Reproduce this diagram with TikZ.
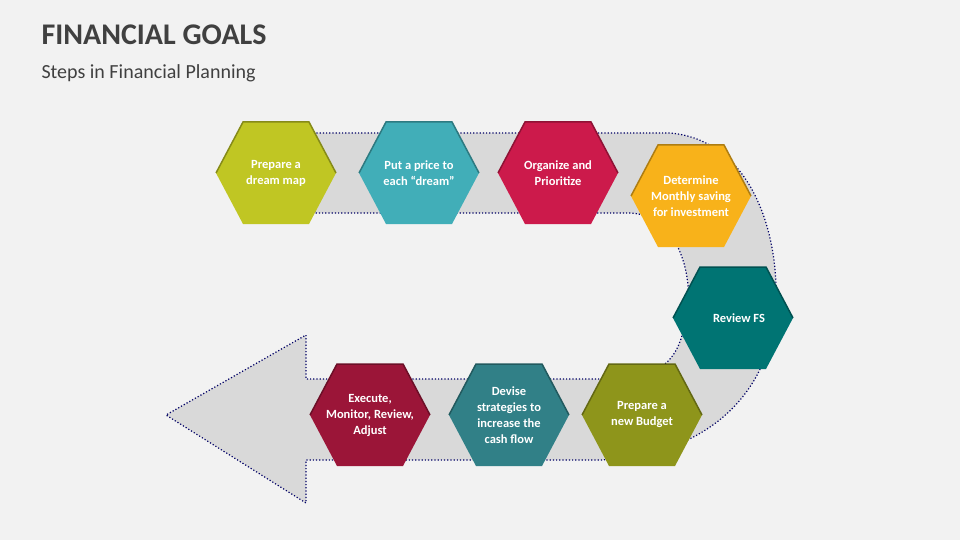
\documentclass[tikz,border=0pt]{standalone}
\usepackage{fontspec}
\setmainfont{Carlito}
\begin{document}
\begin{tikzpicture}[x=1pt,y=-1pt,
  lbl/.style={text=white,font=\bfseries\fontsize{12.5}{16}\selectfont,align=center},
  band/.style={fill=black!15,draw=blue!40!black,dotted,line width=1.2pt}]
\fill[black!5] (0,0) rectangle (960,540);
\useasboundingbox (0,0) rectangle (960,540);
\node[anchor=west,text=black!75,font=\bfseries\fontsize{30}{34}\selectfont] (title) at (38,35) {FINANCIAL GOALS};
\node[anchor=west,text=black!75,font=\fontsize{20}{24}\selectfont] (sub) at (38,73) {Steps in Financial Planning};
\draw[band] (306,335) -- (306,379) -- (620,379)
  .. controls (675,375) and (680,345) .. (686,320)
  .. controls (695,280) and (680,215) .. (630,213)
  -- (315,213) -- (315,133) -- (670,133)
  .. controls (750,140) and (778,230) .. (776,300)
  .. controls (775,380) and (720,455) .. (600,460)
  -- (306,460) -- (306,503) -- (166,415) -- cycle;
\newcommand\hexa[5]{%
  \fill[#4] (#2-60,#3) -- (#2-33,#3-51) -- (#2+33,#3-51) -- (#2+60,#3) -- (#2+33,#3+51) -- (#2-33,#3+51) -- cycle;
  \draw[#4!70!black,line width=1.5pt] (#2-60,#3) -- (#2-33,#3-51) -- (#2+33,#3-51) -- (#2+60,#3);
  \node[lbl] (#1) at (#2,#3) {#5};}
\definecolor{c1}{HTML}{C0C623}\definecolor{c2}{HTML}{41AEB8}
\definecolor{c3}{HTML}{CC1A4B}\definecolor{c4}{HTML}{F8B21A}
\definecolor{c5}{HTML}{007473}\definecolor{c6}{HTML}{8E951B}
\definecolor{c7}{HTML}{318087}\definecolor{c8}{HTML}{9B1538}
\hexa{h1}{276}{173}{c1}{Prepare a\\dream map}
\hexa{h2}{419}{173}{c2}{Put a price to\\each “dream”}
\hexa{h3}{558}{173}{c3}{Organize and\\Prioritize}
\hexa{h4}{691}{196}{c4}{Determine\\Monthly saving\\for investment}
\hexa{h5}{733}{318}{c5}{\hspace*{12pt}Review FS}
\hexa{h6}{642}{415}{c6}{Prepare a\\new Budget}
\hexa{h7}{509}{415}{c7}{Devise\\strategies to\\increase the\\cash flow}
\hexa{h8}{370}{415}{c8}{Execute,\\Monitor, Review,\\Adjust}
\end{tikzpicture}
\end{document}
